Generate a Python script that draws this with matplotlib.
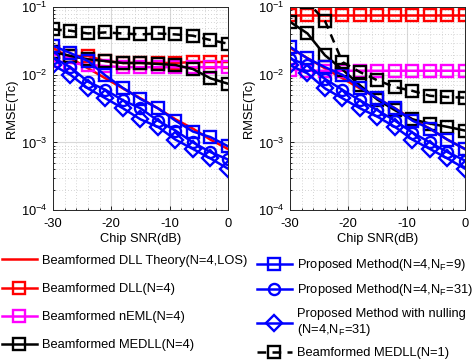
import numpy as np
import matplotlib
matplotlib.use("Agg")
import matplotlib.pyplot as plt
from matplotlib.ticker import LogLocator, NullFormatter, MultipleLocator

plt.rcParams["font.family"] = ["Liberation Sans", "DejaVu Sans"]
plt.rcParams["font.size"] = 9
plt.rcParams["axes.unicode_minus"] = False
plt.rcParams["mathtext.fontset"] = "custom"
plt.rcParams["mathtext.rm"] = "Liberation Sans"
plt.rcParams["mathtext.it"] = "Liberation Sans"

# Chip SNR (dB)
snr = [-30, -27, -24, -21, -18, -15, -12, -9, -6, -3, 0]

# left panel
L_theory = [0.025, 0.0177, 0.0125, 0.0089, 0.0063, 0.0045, 0.0032, 0.0022, 0.0016, 0.0011, 0.0008]
L_dll = [0.022, 0.019, 0.019, 0.016, 0.015, 0.015, 0.015, 0.015, 0.0155, 0.0155, 0.0155]
L_neml = [0.016, 0.015, 0.014, 0.0135, 0.013, 0.013, 0.013, 0.013, 0.013, 0.013, 0.013]
L_medll4 = [0.022, 0.019, 0.017, 0.016, 0.015, 0.015, 0.0145, 0.014, 0.0122, 0.0089, 0.0074]
L_medll1 = [0.047, 0.045, 0.041, 0.0425, 0.041, 0.0397, 0.041, 0.0397, 0.038, 0.0328, 0.029]
L_nf9 = [0.027, 0.021, 0.016, 0.0098, 0.0064, 0.0044, 0.0032, 0.0021, 0.00145, 0.0012, 0.00088]
L_nf31 = [0.018, 0.013, 0.0079, 0.006, 0.0042, 0.0032, 0.0021, 0.0015, 0.001, 0.00072, 0.00056]
L_null = [0.0139, 0.01, 0.0063, 0.0045, 0.0032, 0.0022, 0.0017, 0.0011, 0.0008, 0.00058, 0.00041]

# right panel
R_theory = [0.025, 0.0177, 0.0125, 0.0089, 0.0063, 0.0045, 0.0032, 0.0022, 0.0016, 0.0011, 0.0008]
R_dll = [0.077, 0.077, 0.077, 0.077, 0.077, 0.077, 0.077, 0.077, 0.077, 0.077, 0.077]
R_neml = [0.012, 0.0115, 0.0115, 0.0115, 0.0115, 0.0115, 0.0115, 0.0115, 0.0115, 0.0115, 0.0115]
R_medll4 = [0.061, 0.041, 0.0195, 0.012, 0.007, 0.0043, 0.003, 0.0022, 0.0019, 0.0017, 0.0015]
R_medll1 = [0.2, 0.12, 0.063, 0.0155, 0.011, 0.0083, 0.0066, 0.0058, 0.0049, 0.0047, 0.0046]
R_nf9 = [0.026, 0.0175, 0.013, 0.01, 0.0065, 0.0045, 0.0032, 0.0021, 0.0016, 0.0011, 0.0008]
R_nf31 = [0.0174, 0.0139, 0.0087, 0.006, 0.0042, 0.003, 0.0021, 0.0014, 0.001, 0.00072, 0.00054]
R_null = [0.0139, 0.0105, 0.0063, 0.0045, 0.0032, 0.0024, 0.0017, 0.0011, 0.0008, 0.00058, 0.00041]

labels = [
    "Beamformed DLL Theory(N=4,LOS)",
    "Beamformed DLL(N=4)",
    "Beamformed nEML(N=4)",
    "Beamformed MEDLL(N=4)",
    "Proposed Method(N=4,N$_F$=9)",
    "Proposed Method(N=4,N$_F$=31)",
    "Proposed Method with nulling\n(N=4,N$_F$=31)",
    "Beamformed MEDLL(N=1)",
]

RED = "#ff0000"
MAG = "#ff00ff"
BLUE = "#0000ff"
BLK = "#000000"
LW = 1.8
MS = 8
MEW = 1.7


def draw_panel(ax, theory, dll, neml, medll4, medll1, nf9, nf31, null):
    common = dict(lw=LW, mfc="none", mew=MEW, ms=MS)
    h = []
    h += ax.plot(snr, theory, color=RED, lw=LW)
    h += ax.plot(snr, dll, color=RED, marker="s", **common)
    h += ax.plot(snr, neml, color=MAG, marker="s", **common)
    h += ax.plot(snr, medll4, color=BLK, marker="s", **common)
    h += ax.plot(snr, nf9, color=BLUE, marker="s", **common)
    h += ax.plot(snr, nf31, color=BLUE, marker="o", **common)
    h += ax.plot(snr, null, color=BLUE, marker="D", lw=LW, mfc="none", mew=MEW, ms=MS - 0.3)
    h += ax.plot(snr, medll1, color=BLK, marker="s", ls=(0, (3.5, 2.5)), **common)

    ax.set_yscale("log")
    ax.set_xlim(-30, 0)
    ax.set_ylim(1e-4, 1e-1)
    ax.set_xticks([-30, -20, -10, 0])
    ax.xaxis.set_minor_locator(MultipleLocator(2))
    ax.yaxis.set_major_locator(LogLocator(base=10, numticks=10))
    ax.yaxis.set_minor_locator(LogLocator(base=10, subs=np.arange(2, 10), numticks=10))
    ax.yaxis.set_minor_formatter(NullFormatter())
    ax.grid(True, which="major", color="#d8d8d8", lw=0.8)
    ax.grid(True, which="minor", color="#c8c8c8", lw=0.6, ls=(0, (1, 2.5)))
    ax.tick_params(which="both", direction="in", length=3, width=0.6, labelsize=9.3)
    ax.tick_params(axis="x", which="major", pad=6)
    ax.tick_params(axis="y", which="major", pad=4)
    ax.tick_params(which="minor", length=1.5)
    for s in ax.spines.values():
        s.set_linewidth(0.7)
        s.set_color("#262626")
    ax.set_xlabel("Chip SNR(dB)", fontsize=9.3, labelpad=2)
    ax.set_ylabel("RMSE(Tc)", fontsize=9.3, labelpad=2)
    ax.set_axisbelow(True)
    return h


fig = plt.figure(figsize=(4.74, 3.6), dpi=100)
axL = fig.add_axes([0.1118, 0.4167, 0.369, 0.563])
axR = fig.add_axes([0.6118, 0.4167, 0.369, 0.563])

handles = draw_panel(axL, L_theory, L_dll, L_neml, L_medll4, L_medll1, L_nf9, L_nf31, L_null)
draw_panel(axR, R_theory, R_dll, R_neml, R_medll4, R_medll1, R_nf9, R_nf31, R_null)

leg_opts = dict(
    loc="upper left",
    frameon=False,
    fontsize=9.3,
    handlelength=2.7,
    handletextpad=0.4,
    borderaxespad=0,
    borderpad=0,
)
leg1 = fig.legend(handles[:4], labels[:4], bbox_to_anchor=(0.004, 0.292),
                  labelspacing=1.25, **leg_opts)
leg2 = fig.legend(handles[4:], labels[4:], bbox_to_anchor=(0.542, 0.286),
                  labelspacing=0.72, **leg_opts)

fig.savefig("out.png", dpi=100)
